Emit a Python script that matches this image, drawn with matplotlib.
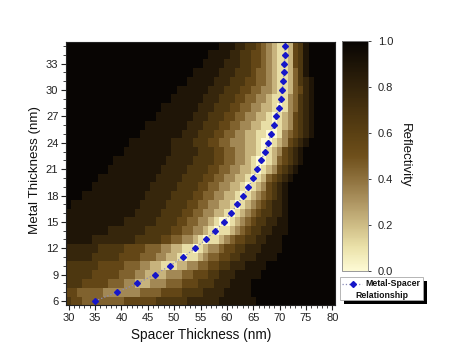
import numpy as np
import matplotlib
matplotlib.use("Agg")
import matplotlib.pyplot as plt
from matplotlib.colors import LinearSegmentedColormap
from matplotlib.patches import Rectangle
from matplotlib.lines import Line2D
from matplotlib.ticker import MultipleLocator, FixedLocator

plt.rcParams["font.family"] = ["Liberation Sans", "DejaVu Sans"]

# ---- data ----
spacer_nm = list(range(30, 81))      # heatmap columns
metal_nm = list(range(6, 36))        # heatmap rows

# reflectivity map, one row per metal thickness (bottom -> top),
# digits 0..9 = reflectivity 0..1, "dxn" = digit d repeated n times
refl_rows = [
    "6 5x2 4x8 5x6 6x6 7x6 8x7 9x15",                                  # 6
    "5x2 4x5 3x7 4x4 5x4 6x4 7x4 8x5 9x16",                            # 7
    "6x3 5x5 4x3 3x2 2x3 3x3 4x3 5x3 6x3 7x3 8x4 9x16",                # 8
    "6x5 5x5 4x3 3x2 2x4 3x3 4x2 5x3 6x2 7x3 8x5 9x14",                # 9
    "6x6 5x5 4x3 3x2 2x2 1x3 2x2 3x2 4x2 5x2 6x2 7x3 8x4 9x13",        # 10
    "7x5 6x5 5x4 4x3 3x2 2x2 1 0 1x2 2 3 4x2 5x2 6x2 7x3 8x4 9x11",    # 11
    "7x6 6x5 5x4 4x3 3x2 2x2 1x2 0 1 2 3x2 4 5x2 6x2 7x3 8x4 9x10",    # 12
    "8x5 7x8 6x5 5x2 4x2 3x2 2 1 0 1x2 2 3 4 5x2 6x2 7x2 8x3 9x10",    # 13
    "8x8 7x7 6x5 5x2 4x2 3x2 2 1 0 1x2 2 3 4 5 6x2 7x2 8x3 9x9",       # 14
    "8x11 7x6 6x4 5x2 4x2 3x2 2 1 0x2 1 2 3 4 5 6x2 7x2 8x2 9x9",      # 15
    "8x13 7x5 6x4 5x2 4x2 3x2 2x2 1 0 1 2 3 4 5 6x2 7x2 8 9x9",        # 16
    "9 8x13 7x5 6x4 5x2 4x2 3x2 2x2 1 0 1 2 3 4 5 6 7x2 8 9x9",        # 17
    "9x3 8x12 7x5 6x4 5x2 4x2 3x2 2x2 1 0 1 2 3 4 5 6 7 8 9x9",        # 18
    "9x5 8x11 7x5 6x4 5x2 4x2 3x2 2x2 1 0 1 2 3 5 6 7 8 9x9",          # 19
    "9x6 8x11 7x5 6x4 5x2 4x2 3x2 2x2 1 0 1 2 4 5 6 7 8 9x8",          # 20
    "9x8 8x10 7x5 6x4 5x2 4x2 3x2 2x2 1 0 1 2 3 5 6 7 8 9x7",          # 21
    "9x9 8x10 7x5 6x4 5x2 4x2 3x2 2 1 0x2 1 2 4 5 6 7 8 9x6",          # 22
    "9x11 8x9 7x5 6x3 5x2 4x2 3x2 2x2 1 0 1 2 3 5 6 7 8 9x6",          # 23
    "9x12 8x8 7x4 6x3 5x2 4x2 3x3 2x2 1 0x2 1 2 3 5 6 7 8 9x5",        # 24
    "9x14 8x8 7x3 6x3 5x2 4x2 3x2 2x2 1x2 0x2 1 3 4 5 6 7 8 9x4",      # 25
    "9x15 8x8 7x3 6x3 5x2 4x2 3x2 2x2 1x2 0 1 2 3 5 6 7 8 9x4",        # 26
    "9x17 8x7 7x3 6x3 5x2 4x2 3x2 2x2 1 0 1 2 3 5 6 7 8 9x4",          # 27
    "9x18 8x7 7x3 6x3 5x2 4x2 3x2 2x2 1 0 1 3 4 6 7 8 9x4",            # 28
    "9x20 8x6 7x3 6x3 5x2 4x2 3x2 2 1x3 3 4 6 7 8 9x4",                # 29
    "9x21 8x6 7x3 6x3 5x2 4x2 3x2 2 1x2 2 4 5 7 8 9x4",                # 30
    "9x23 8x5 7x3 6x3 5x2 4x2 3 2 1x2 2 4 6 7 8 9x4",                  # 31
    "9x24 8x5 7x3 6x3 5 4x2 3 2 1x2 2 4 6 8 9x5",                      # 32
    "9x26 8x4 7x3 6x2 5x2 4 3 2 1x2 2 5 6 8 9x5",                      # 33
    "9x27 8x4 7x2 6x2 5x2 4 3 2 1x2 2 5 6 8 9x5",                      # 34
    "9x29 8x3 7x2 6x2 5 4 3 2 1x2 2 5 6 8 9x5",                        # 35
]

# metal-spacer relationship (resonance positions)
rel_metal = [6, 7, 8, 9, 10, 11, 12, 13, 14, 15, 16, 17, 18, 19, 20,
             21, 22, 23, 24, 25, 26, 27, 28, 29, 30, 31, 32, 33, 34, 35]
rel_spacer = [35.0, 39.2, 43.0, 46.3, 49.2, 51.7, 54.0, 56.0, 57.8, 59.4,
              60.8, 62.0, 63.1, 64.1, 65.0, 65.8, 66.5, 67.2, 67.8, 68.4,
              68.9, 69.4, 69.8, 70.2, 70.5, 70.7, 70.85, 70.9, 71.0, 71.0]


def expand(row):
    s = ""
    for tok in row.split():
        if "x" in tok:
            d, n = tok.split("x")
            s += d * int(n)
        else:
            s += tok
    if len(s) != len(spacer_nm):
        print("row length", len(s), row)
    s = s[:len(spacer_nm)].ljust(len(spacer_nm), "9")
    return [int(c) / 9 for c in s]


refl = np.array([expand(r) for r in refl_rows])

cmap = LinearSegmentedColormap.from_list("refl", list(zip(
    [0.0, 0.1, 0.2, 0.3, 0.4, 0.5, 0.6, 0.7, 0.8, 0.9, 1.0],
    ["#fdfad4", "#ebe2aa", "#cdbb84", "#ad9461", "#8d703c", "#6e4f1b",
     "#5a4013", "#47320f", "#32230b", "#1d1407", "#080503"])))

W, H = 474, 362
fig = plt.figure(figsize=(W / 100, H / 100), dpi=100)
fig.patch.set_facecolor("white")

ax = fig.add_axes([66 / W, 1 - 305.4 / H, 269 / W, 263.7 / H])
mesh = ax.pcolormesh(spacer_nm, metal_nm, refl, cmap=cmap, vmin=0, vmax=1,
                     shading="nearest")
ax.plot(rel_spacer, rel_metal, ls=":", lw=0.9, color="#8a8ab8",
        marker="D", ms=3.0, mfc="#1616c8", mec="#1616c8", clip_on=False)
ax.set_xlim(29.5, 80.5)
ax.set_ylim(5.5, 35.5)
ax.xaxis.set_major_locator(MultipleLocator(5))
ax.xaxis.set_minor_locator(MultipleLocator(1))
ax.yaxis.set_major_locator(FixedLocator(list(range(6, 34, 3))))
ax.yaxis.set_minor_locator(MultipleLocator(1))
ax.tick_params(which="major", direction="out", length=3.5, width=0.8,
               labelsize=8, colors="#222222", pad=2)
ax.tick_params(which="minor", direction="out", length=2, width=0.6, colors="#222222")
for s in ax.spines.values():
    s.set_color("#222222")
    s.set_linewidth(0.8)

fig.text(201 / W, 1 - 335 / H, "Spacer Thickness (nm)", ha="center", va="center",
         fontsize=9.8, color="#111111")
fig.text(35 / W, 1 - 170.5 / H, "Metal Thickness (nm)", ha="center", va="center",
         rotation=90, fontsize=9.6, color="#111111")

# colorbar
cax = fig.add_axes([341.7 / W, 1 - 270.7 / H, 26.6 / W, 229.7 / H])
cb = fig.colorbar(mesh, cax=cax, ticks=[0, 0.2, 0.4, 0.6, 0.8, 1.0], format="%.1f")
cb.ax.tick_params(labelsize=8, length=2.5, width=0.6, pad=4.5, colors="#222222")
cb.outline.set_edgecolor("#888888")
cb.outline.set_linewidth(0.6)
fig.text(405 / W, 1 - 155 / H, "Reflectivity", ha="center", va="center",
         rotation=270, fontsize=9.5, color="#111111")

# legend box with shadow
fig.add_artist(Rectangle((344 / W, 1 - 304 / H), 83 / W, 23 / H,
                         transform=fig.transFigure, fc="black", ec="none"))
fig.add_artist(Rectangle((340 / W, 1 - 300 / H), 83 / W, 23 / H,
                         transform=fig.transFigure, fc="white", ec="#aaaaaa", lw=0.6))
fig.add_artist(Line2D([342 / W, 362 / W], [1 - 284 / H, 1 - 284 / H],
                      transform=fig.transFigure, ls=":", lw=0.9, color="#8a8ab8"))
fig.add_artist(Line2D([352.5 / W], [1 - 284 / H], transform=fig.transFigure,
                      marker="D", ms=3.0, mfc="#1616c8", mec="#1616c8", ls="none"))
fig.text(365 / W, 1 - 284 / H, "Metal-Spacer", ha="left", va="center",
         fontsize=6.3, fontweight="bold", color="#111111")
fig.text(382 / W, 1 - 295 / H, "Relationship", ha="center", va="center",
         fontsize=6.3, fontweight="bold", color="#111111")

fig.savefig("out.png", dpi=100, facecolor="white")
